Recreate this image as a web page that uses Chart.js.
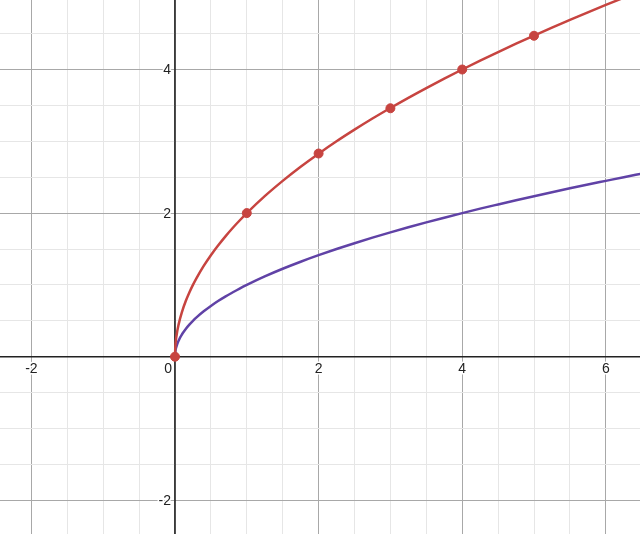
<!DOCTYPE html>
<html>
<head>
<meta charset="utf-8">
<script src="https://cdn.jsdelivr.net/npm/chart.js@4/dist/chart.umd.min.js"></script>
<style>
    html, body { margin: 0; padding: 0; background: #fff; }
    #wrap { width: 640px; height: 534px; }
</style>
</head>
<body>
<div id="wrap"><canvas id="graph" width="640" height="534"></canvas></div>
<script>
// sample x positions along both curves
const curveX = [0, 0.005, 0.02, 0.05, 0.1, 0.15, 0.2, 0.25, 0.3, 0.4, 0.5, 0.6, 0.7, 0.8, 0.9, 1,
    1.25, 1.5, 1.75, 2, 2.25, 2.5, 2.75, 3, 3.25, 3.5, 3.75, 4, 4.25, 4.5, 4.75, 5, 5.25, 5.5, 5.75, 6, 6.25, 6.5];
// red curve
const redY = [0, 0.141, 0.283, 0.447, 0.632, 0.775, 0.894, 1.000, 1.095, 1.265, 1.414, 1.549, 1.673, 1.789, 1.897, 2.000,
    2.236, 2.449, 2.646, 2.828, 3.000, 3.162, 3.317, 3.464, 3.606, 3.742, 3.873, 4.000, 4.123, 4.243, 4.359, 4.472, 4.583, 4.690, 4.796, 4.899, 5.000, 5.099];
// purple curve
const purpleY = [0, 0.071, 0.141, 0.224, 0.316, 0.387, 0.447, 0.500, 0.548, 0.632, 0.707, 0.775, 0.837, 0.894, 0.949, 1.000,
    1.118, 1.225, 1.323, 1.414, 1.500, 1.581, 1.658, 1.732, 1.803, 1.871, 1.936, 2.000, 2.062, 2.121, 2.179, 2.236, 2.291, 2.345, 2.398, 2.449, 2.500, 2.550];
// marked points on the red curve
const dotX = [0, 1, 2, 3, 4, 5];
const dotY = [0, 2.00, 2.83, 3.46, 4.00, 4.47];
// axis tick labels
const xTickValues = [-2, 0, 2, 4, 6];
const xTickLabels = ['-2', '0', '2', '4', '6'];
const yTickValues = [-2, 2, 4];
const yTickLabels = ['-2', '2', '4'];

const RED = '#c74440';
const PURPLE = '#6042a6';

function toPoints(xs, ys) {
    return xs.map((x, i) => ({ x: x, y: ys[i] }));
}

function gridColor(ctx) {
    const v = ctx.tick.value;
    if (Math.abs(v % 2) < 1e-9) return '#a8a8a8';
    return '#e6e6e6';
}

// axes + labels drawn under the curves, Desmos style
const axesPlugin = {
    id: 'axes',
    beforeDatasetsDraw(chart) {
        const { ctx, chartArea, scales } = chart;
        const x0 = scales.x.getPixelForValue(0);
        const y0 = scales.y.getPixelForValue(0);

        ctx.save();
        ctx.strokeStyle = '#222';
        ctx.lineWidth = 1.6;
        ctx.beginPath();
        ctx.moveTo(chartArea.left, y0);
        ctx.lineTo(chartArea.right, y0);
        ctx.moveTo(x0, chartArea.top);
        ctx.lineTo(x0, chartArea.bottom);
        ctx.stroke();

        ctx.font = '14px "Liberation Sans", Arial, sans-serif';
        ctx.lineJoin = 'round';
        ctx.strokeStyle = '#fff';
        ctx.lineWidth = 3;
        ctx.fillStyle = '#222';

        ctx.textBaseline = 'middle';
        xTickValues.forEach((v, i) => {
            const px = scales.x.getPixelForValue(v);
            let tx = px;
            ctx.textAlign = 'center';
            if (v === 0) {
                ctx.textAlign = 'right';
                tx = px - 3;
            }
            ctx.strokeText(xTickLabels[i], tx, y0 + 12);
            ctx.fillText(xTickLabels[i], tx, y0 + 12);
        });

        ctx.textAlign = 'right';
        yTickValues.forEach((v, i) => {
            const py = scales.y.getPixelForValue(v);
            ctx.strokeText(yTickLabels[i], x0 - 4, py + 1);
            ctx.fillText(yTickLabels[i], x0 - 4, py + 1);
        });
        ctx.restore();
    }
};

new Chart(document.getElementById('graph'), {
    type: 'scatter',
    data: {
        datasets: [
            {
                data: toPoints(curveX, purpleY),
                showLine: true,
                borderColor: PURPLE,
                borderWidth: 2.5,
                pointRadius: 0,
                cubicInterpolationMode: 'monotone',
                order: 3
            },
            {
                data: toPoints(curveX, redY),
                showLine: true,
                borderColor: RED,
                borderWidth: 2.5,
                pointRadius: 0,
                cubicInterpolationMode: 'monotone',
                order: 2
            },
            {
                data: toPoints(dotX, dotY),
                showLine: false,
                backgroundColor: RED,
                borderColor: RED,
                pointRadius: 4.5,
                order: 1
            }
        ]
    },
    options: {
        responsive: false,
        animation: false,
        layout: { padding: 0, autoPadding: false },
        plugins: {
            legend: { display: false },
            tooltip: { enabled: false }
        },
        scales: {
            x: {
                type: 'linear',
                min: -2.437,
                max: 6.476,
                border: { display: false },
                grid: { color: gridColor, lineWidth: 1, drawTicks: false },
                ticks: { display: false, stepSize: 0.5, includeBounds: false }
            },
            y: {
                type: 'linear',
                min: -2.469,
                max: 4.968,
                border: { display: false },
                grid: { color: gridColor, lineWidth: 1, drawTicks: false },
                ticks: { display: false, stepSize: 0.5, includeBounds: false }
            }
        }
    },
    plugins: [axesPlugin]
});
</script>
</body>
</html>
